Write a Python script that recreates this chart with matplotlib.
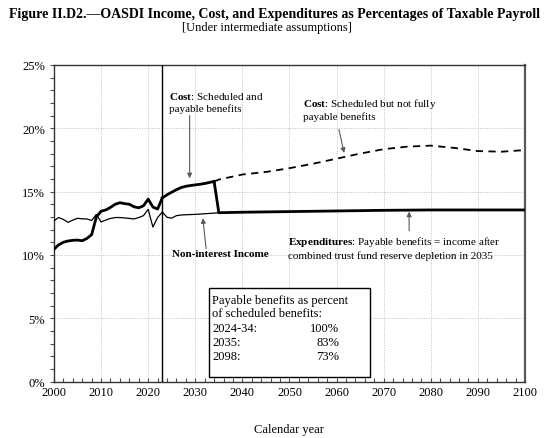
import matplotlib
matplotlib.use("Agg")
import matplotlib.pyplot as plt
from matplotlib.ticker import MultipleLocator, FuncFormatter
from matplotlib.patches import Rectangle

plt.rcParams['font.family'] = ['Liberation Serif', 'DejaVu Serif']
plt.rcParams['mathtext.fontset'] = 'custom'
plt.rcParams['mathtext.rm'] = 'Liberation Serif'
plt.rcParams['mathtext.bf'] = 'Liberation Serif:bold'
plt.rcParams['mathtext.it'] = 'Liberation Serif:italic'

# ---- data ----
hist_years = list(range(2000, 2024))
cost_hist = [10.45, 10.8, 11.0, 11.1, 11.15, 11.17, 11.12, 11.3, 11.6, 13.0,
             13.45, 13.55, 13.75, 14.0, 14.12, 14.05, 14.0, 13.8, 13.72, 13.88,
             14.4, 13.78, 13.62, 14.5]
income_hist = [12.7, 12.95, 12.8, 12.57, 12.75, 12.89, 12.85, 12.84, 12.72, 13.2,
               12.6, 12.75, 12.88, 12.95, 12.95, 12.92, 12.88, 12.84, 12.95, 13.1,
               13.6, 12.2, 12.95, 13.38]

proj_cost_years = [2023, 2024, 2025, 2026, 2027, 2028, 2029, 2030, 2031, 2032, 2033, 2034]
proj_cost = [14.5, 14.75, 14.95, 15.15, 15.32, 15.42, 15.48, 15.53, 15.58, 15.64, 15.72, 15.8]

sched_years = [2034, 2035, 2040, 2045, 2050, 2055, 2060, 2065, 2070, 2075, 2080,
               2085, 2090, 2095, 2100]
sched_cost = [15.8, 15.95, 16.35, 16.55, 16.85, 17.2, 17.6, 18.0, 18.35, 18.55, 18.63,
              18.45, 18.2, 18.15, 18.28]

proj_inc_years = [2023, 2024, 2025, 2026, 2027, 2028, 2030, 2032, 2034, 2035]
proj_income = [13.38, 12.97, 12.9, 13.1, 13.15, 13.17, 13.2, 13.25, 13.3, 13.33]

exp_years = [2034, 2035, 2040, 2050, 2060, 2070, 2080, 2090, 2100]
expenditures = [15.8, 13.33, 13.37, 13.42, 13.47, 13.52, 13.55, 13.55, 13.55]

box_labels = ["2024-34:", "2035:", "2098:"]
box_values = ["100%", "83%", "73%"]

# ---- figure ----
fig = plt.figure(figsize=(5.48, 4.39), dpi=100)
ax = fig.add_axes([0.0985, 0.1287, 0.8595, 0.721])

ax.set_xlim(2000, 2100)
ax.set_ylim(0, 25)
ax.xaxis.set_major_locator(MultipleLocator(10))
ax.xaxis.set_minor_locator(MultipleLocator(2))
ax.yaxis.set_major_locator(MultipleLocator(5))
ax.yaxis.set_minor_locator(MultipleLocator(1))
ax.yaxis.set_major_formatter(FuncFormatter(lambda v, p: f"{v:.0f}%"))
ax.tick_params(axis='both', which='both', labelsize=9, length=3, width=0.8, color='0.3')
ax.tick_params(axis='x', which='both', direction='in')
ax.tick_params(axis='y', which='both', direction='out')
ax.grid(True, which='major', color='0.75', linestyle=(0, (1, 1.5)), linewidth=0.7)
for s in ['left', 'bottom', 'top']:
    ax.spines[s].set_linewidth(1.0)
    ax.spines[s].set_color('0.2')
ax.spines['right'].set_linewidth(1.6)
ax.spines['right'].set_color('0.35')

ax.axvline(2023, color='black', linewidth=1.0, zorder=3)

ax.plot(hist_years, cost_hist, color='black', linewidth=2.0, zorder=4)
ax.plot(hist_years, income_hist, color='black', linewidth=0.9, zorder=4)
ax.plot(proj_cost_years, proj_cost, color='black', linewidth=2.0, zorder=4)
ax.plot(sched_years, sched_cost, color='black', linewidth=1.3, linestyle=(0, (4, 3)), zorder=4)
ax.plot(proj_inc_years, proj_income, color='black', linewidth=0.9, zorder=4)
ax.plot(exp_years, expenditures, color='black', linewidth=2.0, zorder=4)

arrow = dict(arrowstyle='-|>', color='0.35', lw=0.8, mutation_scale=7, shrinkA=0, shrinkB=0)
fs = 8.0
ls = 1.22

ax.text(2024.5, 22.1, r"$\mathbf{Cost}$: Scheduled and" + "\npayable benefits", fontsize=fs,
        va='center', ha='left', linespacing=ls)
ax.annotate("", xy=(2028.8, 16.05), xytext=(2028.8, 21.0), arrowprops=arrow)

ax.text(2052.9, 21.55, r"$\mathbf{Cost}$: Scheduled but not fully" + "\npayable benefits",
        fontsize=fs, va='center', ha='left', linespacing=ls)
ax.annotate("", xy=(2061.6, 18.05), xytext=(2060.5, 19.9), arrowprops=arrow)

ax.text(2025.1, 10.12, "Non-interest Income", fontsize=fs, fontweight='bold',
        va='center', ha='left')
ax.annotate("", xy=(2031.6, 12.9), xytext=(2032.3, 10.5), arrowprops=arrow)

ax.text(2049.6, 10.62, r"$\mathbf{Expenditures}$: Payable benefits = income after" +
        "\ncombined trust fund reserve depletion in 2035", fontsize=fs,
        va='center', ha='left', linespacing=ls)
ax.annotate("", xy=(2075.4, 13.42), xytext=(2075.4, 11.9), arrowprops=arrow)

# text box
ax.add_patch(Rectangle((2033.0, 0.35), 34.1, 7.0, facecolor='white', edgecolor='black',
                       linewidth=1.0, zorder=5))
ax.text(2033.6, 6.4, "Payable benefits as percent", fontsize=9, va='center', ha='left', zorder=6)
ax.text(2033.6, 5.4, "of scheduled benefits:", fontsize=9, va='center', ha='left', zorder=6)
for i, (lab, val) in enumerate(zip(box_labels, box_values)):
    y = 4.2 - i * 1.08
    ax.text(2033.6, y, lab, fontsize=9, va='center', ha='left', zorder=6)
    ax.text(2060.6, y, val, fontsize=9, va='center', ha='right', zorder=6)

fig.text(0.016, 0.968, "Figure II.D2.\u2014OASDI Income, Cost, and Expenditures as Percentages of Taxable Payroll",
         fontsize=10.0, fontweight='bold', ha='left', va='center')
fig.text(0.487, 0.936, "[Under intermediate assumptions]", fontsize=9, ha='center', va='center')
fig.text(0.528, 0.02, "Calendar year", fontsize=9, ha='center', va='center')

fig.savefig("out.png", dpi=100)
